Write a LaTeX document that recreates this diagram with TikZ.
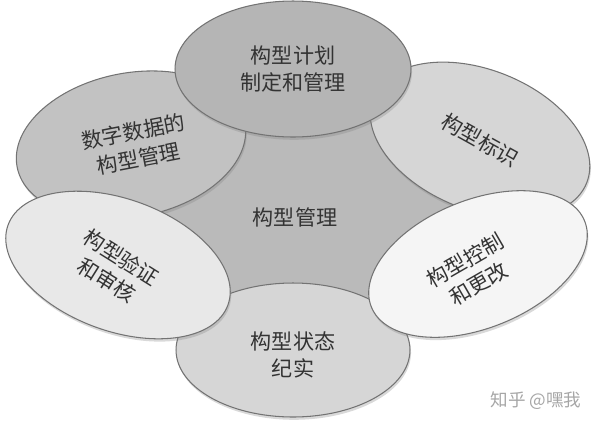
\documentclass[tikz,border=0pt]{standalone}
\usepackage{fontspec}
\newfontfamily\cjk{Noto Sans CJK SC}
\usetikzlibrary{shapes.geometric,shadows}
\definecolor{hubgray}{gray}{0.73}
\definecolor{plangray}{gray}{0.71}
\definecolor{digigray}{gray}{0.76}
\definecolor{identgray}{gray}{0.84}
\definecolor{statgray}{gray}{0.84}
\definecolor{verigray}{gray}{0.91}
\definecolor{ctrlgray}{gray}{0.96}
\tikzset{
  petal/.style={ellipse, draw=black!55, line width=0.6pt, inner sep=0pt,
    drop shadow={opacity=0.3, shadow xshift=0.6pt, shadow yshift=-1.6pt}},
  caption/.style={font=\cjk\fontsize{12}{15.5}\selectfont, text=black!80, align=center},
}
\begin{document}
\begin{tikzpicture}[x=0.02cm, y=-0.02cm]
      \useasboundingbox (0,0) rectangle (599,427);
      \fill[hubgray] (293,110) -- (400,120) -- (470,200) -- (430,280) -- (375,320)
        -- (215,320) -- (160,280) -- (140,205) -- (200,110) -- cycle;
      \node[petal, fill=digigray, minimum width=4.64cm, minimum height=2.88cm, rotate=11] (digital) at (131,145) {};
      \node[petal, fill=identgray, minimum width=4.6cm, minimum height=2.8cm, rotate=-22] (ident) at (480,140) {};
      \node[petal, fill=statgray, minimum width=4.68cm, minimum height=2.68cm] (status) at (293,350) {};
      \node[petal, fill=plangray, minimum width=4.72cm, minimum height=2.72cm] (plan) at (293,69) {};
      \node[petal, fill=verigray, minimum width=4.68cm, minimum height=2.64cm, rotate=-20] (verify) at (118,265) {};
      \node[petal, fill=ctrlgray, minimum width=4.6cm, minimum height=2.56cm, rotate=22] (control) at (478,264) {};
      \node[caption] (hub-t) at (295,217) {构型管理};
      \node[caption] (plan-t) at (plan) {构型计划\\制定和管理};
      \node[caption, rotate=11] (digital-t) at (136,145) {数字数据的\\构型管理};
      \node[caption, rotate=-29] (ident-t) at (ident) {构型标识};
      \node[caption, rotate=-32] (verify-t) at (114,269) {构型验证\\和审核};
      \node[caption, rotate=30] (control-t) at (472,272) {构型控制\\和更改};
      \node[caption] (status-t) at (293,355) {构型状态\\纪实};
      \node[font=\cjk\fontsize{10}{12}\selectfont, text=black!35] (mark) at (536,401) {知乎 @嘿我};
\end{tikzpicture}
\end{document}
